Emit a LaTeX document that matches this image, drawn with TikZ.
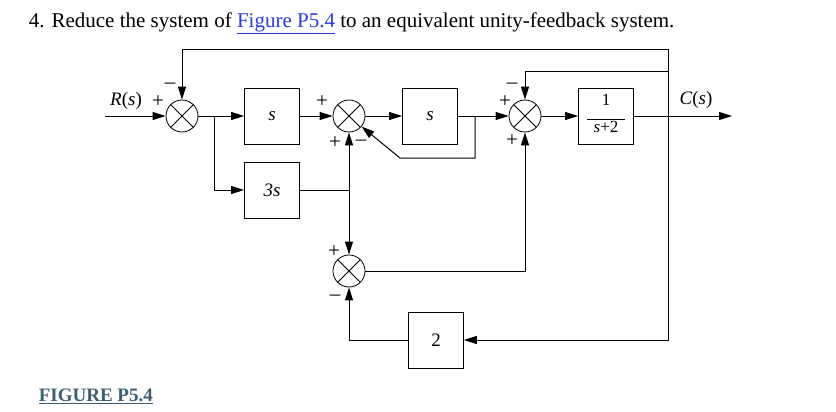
\documentclass[tikz,border=0pt]{standalone}
\usepackage{fontspec}
\setmainfont{Liberation Serif}
\usetikzlibrary{arrows.meta}
\definecolor{linkblue}{RGB}{40,60,220}
\definecolor{figteal}{RGB}{60,95,115}
\begin{document}
\begin{tikzpicture}[x=1pt,y=-1pt,
  blk/.style={draw,thick,minimum width=55pt,minimum height=56pt,inner sep=0pt,font=\fontsize{19}{19}\selectfont\itshape},
  sum/.style={draw,thick,circle,minimum size=32pt,inner sep=0pt,
    path picture={\draw[thick] ([shift={(-11.3,-11.3)}]path picture bounding box.center) -- ([shift={(11.3,11.3)}]path picture bounding box.center);
                  \draw[thick] ([shift={(-11.3,11.3)}]path picture bounding box.center) -- ([shift={(11.3,-11.3)}]path picture bounding box.center);}},
  sig/.style={font=\fontsize{21}{21}\selectfont,inner sep=0pt},
  lbl/.style={font=\fontsize{19}{19}\selectfont},
  >={Triangle[length=13pt,width=8pt]}, line width=1pt]
\useasboundingbox (0,0) rectangle (836,412);
\node[anchor=west,font=\fontsize{21}{21}\selectfont] (title) at (25,23)
  {4. Reduce the system of \textcolor{linkblue}{\underline{Figure P5.4}} to an equivalent unity-feedback system.};
\node[anchor=west,text=figteal,font=\bfseries\fontsize{19}{19}\selectfont] (cap) at (35,396) {\underline{FIGURE P5.4}};

\node[sum] (s1) at (182,116) {};
\node[blk] (g1) at (272,116) {s};
\node[blk] (g3) at (272,190) {3s};
\node[sum] (s2) at (349,116) {};
\node[blk] (g2) at (430,116) {s};
\node[sum] (s3) at (525,116) {};
\node[blk,font=\fontsize{17}{17}\selectfont] (g4) at (606,116)
  {\begin{tabular}{@{}c@{}}1\\[-3pt]\rule{38pt}{0.8pt}\\[-4pt]\textit{s}+2\end{tabular}};
\node[sum] (s4) at (349,271) {};
\node[blk,font=\fontsize{19}{19}\selectfont] (g5) at (436,340) {2};

\coordinate (in) at (105,116);
\coordinate (out) at (732,116);
\coordinate (b1) at (214,116);
\coordinate (b2) at (475,116);
\coordinate (b3) at (668,116);
\coordinate (j3s) at (349,190);

\node[lbl] (rl) at (126,101) {\textit{R}(\textit{s})};
\node[lbl] (cl) at (696,100) {\textit{C}(\textit{s})};

\draw[->] (in) -- (s1);
\draw[->] (s1) -- (g1);
\draw[->] (b1) |- (g3);
\draw[->] (g1) -- (s2);
\draw[->] (s2) -- (g2);
\draw[->] (g2) -- (s3);
\draw[->] (s3) -- (g4);
\draw[->] (g4) -- (out);
\draw (g3) -- (j3s);
\draw[->] (j3s) -- (s2);
\draw[->] (j3s) -- (s4);
\draw[->] (b2) |- (400,158) -- (s2.-40);
\draw[->] (b3) |- (525,72) -- (s3);
\draw[->] (b3) |- (182,50) -- (s1);
\draw[->] (b3) |- (g5);
\draw[->] (g5) -| (s4);
\draw[->] (s4) -| (s3);

\node[sig] (p1) at (158,102) {+};
\node[sig] (m1) at (170,86) {–};
\node[sig] (p2) at (322,102) {+};
\node[sig] (p3) at (335,143) {+};
\node[sig] (m2) at (361,143) {–};
\node[sig] (p4) at (505,102) {+};
\node[sig] (m3) at (512,86) {–};
\node[sig] (p5) at (512,141) {+};
\node[sig] (p6) at (334,252) {+};
\node[sig] (m4) at (335,298) {–};
\end{tikzpicture}
\end{document}
